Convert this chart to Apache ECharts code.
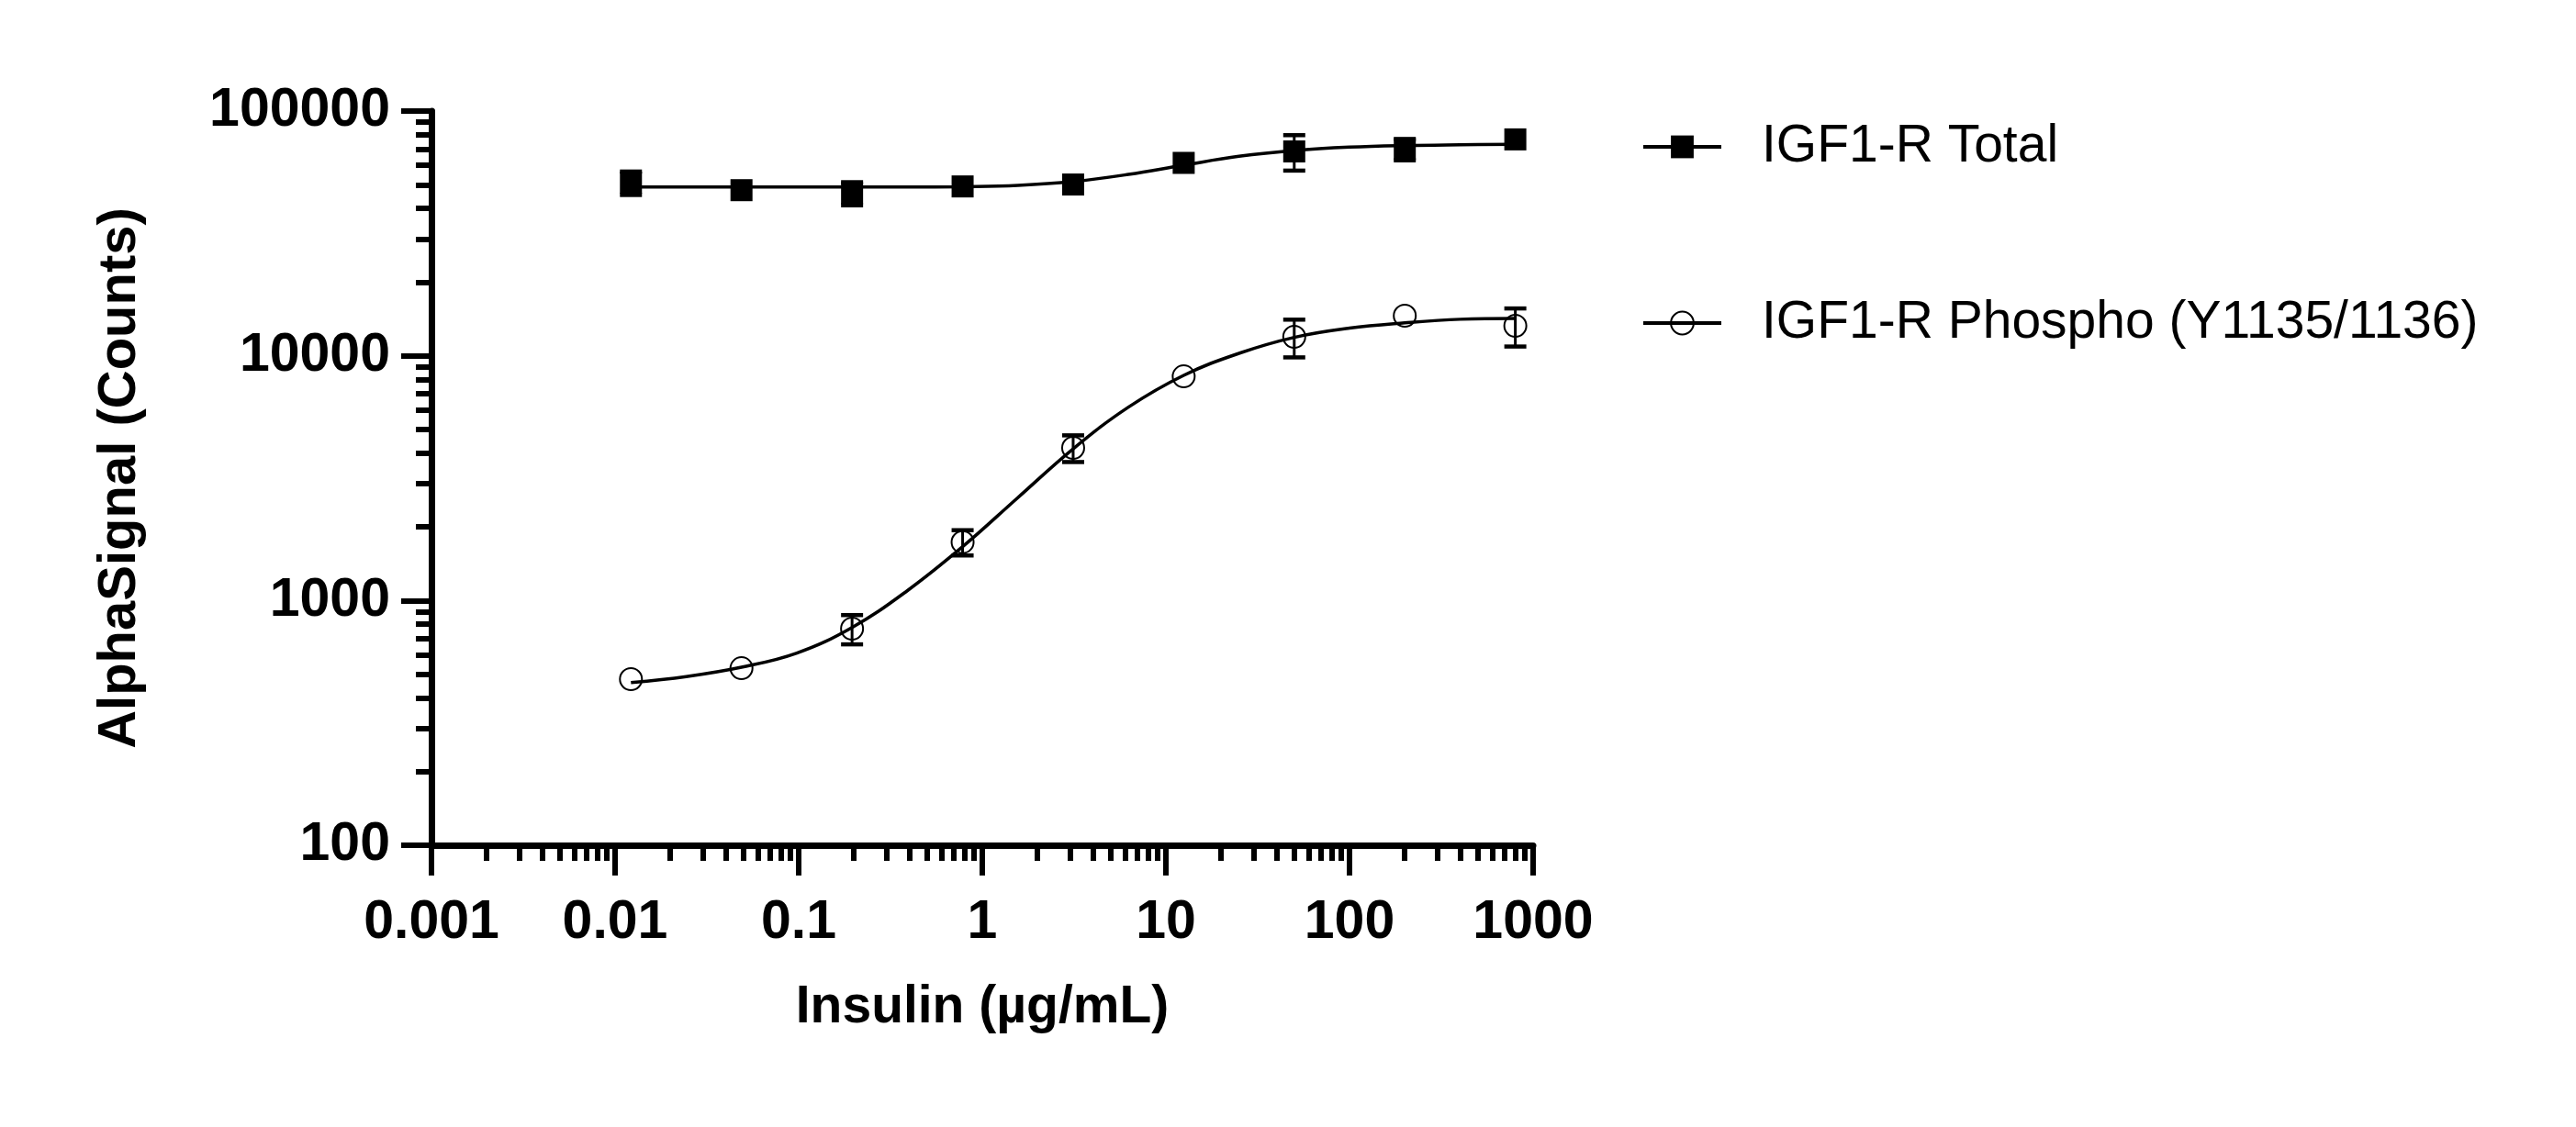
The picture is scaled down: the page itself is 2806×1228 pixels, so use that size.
<!DOCTYPE html>
<html><head><meta charset="utf-8">
<script src="https://cdn.jsdelivr.net/npm/echarts@6/dist/echarts.min.js"></script>
<style>html,body{margin:0;padding:0;background:#fff}#c{width:2806px;height:1228px}</style>
</head><body><div id="c"></div>
<script>
// ---- data ----
const concentrations = [0.0122, 0.0488, 0.1953, 0.78125, 3.125, 12.5, 50, 200, 800];
const totalMean   = [51000, 47500, 46200, 49200, 50100, 61400, 68400, 69900, 76600];
const totalSD     = [5600, 0, 5000, 0, 0, 0, 11300, 7000, 0];
const phosphoMean = [477, 529, 767, 1733, 4205, 8240, 11950, 14580, 13260];
const phosphoSD   = [0, 0, 105, 205, 525, 0, 2100, 0, 2350];
// fitted curves at 2-fold steps
const fitX       = [0.0122, 0.0244, 0.0488, 0.0977, 0.1953, 0.39, 0.78125, 1.5625, 3.125, 6.25, 12.5, 25, 50, 100, 200, 400, 800];
const fitTotal   = [48900, 48900, 48900, 48900, 48900, 48900, 49100, 49700, 51500, 55100, 60100, 65300, 69000, 71200, 72300, 72800, 73100];
const fitPhospho = [462, 489, 534, 610, 776, 1096, 1659, 2633, 4165, 6166, 8318, 10233, 11890, 12970, 13630, 14100, 14210];
const xTickLabels = ['0.001', '0.01', '0.1', '1', '10', '100', '1000'];
const yTickLabels = ['100', '1000', '10000', '100000'];
const seriesNames = ['IGF1-R Total', 'IGF1-R Phospho (Y1135/1136)'];
const xTitle = 'Insulin (µg/mL)';
const yTitle = 'AlphaSignal (Counts)';

// ---- derived ----
const xMajor = xTickLabels.map(Number);
const yMajor = yTickLabels.map(Number);
function minors(major) {
  const out = [];
  for (let i = 0; i < major.length - 1; i++) for (let k = 2; k <= 9; k++) out.push(+(major[i] * k).toPrecision(6));
  return out;
}
const xMinor = minors(xMajor), yMinor = minors(yMajor);
function labelFor(list) {
  return v => { const e = Math.round(Math.log10(v)); const i = list.findIndex(s => Math.round(Math.log10(Number(s))) === e); return i >= 0 ? list[i] : ''; };
}
const pts = (xs, ys) => xs.map((x, i) => [x, ys[i]]);
const errs = (xs, m, sd) => xs.map((x, i) => [x, m[i] - sd[i], m[i] + sd[i], sd[i]]).filter(d => d[3] > 0);

const FONT = 'Liberation Sans, Arial, sans-serif';
const black = '#000';

function errRender(params, api) {
  const x = api.value(0), lo = api.value(1), hi = api.value(2);
  const a = api.coord([x, hi]), b = api.coord([x, lo]);
  const cw = 12;
  return { type: 'group', children: [
    { type: 'line', shape: { x1: a[0], y1: a[1], x2: b[0], y2: b[1] }, style: { stroke: black, lineWidth: 3 } },
    { type: 'line', shape: { x1: a[0] - cw, y1: a[1], x2: a[0] + cw, y2: a[1] }, style: { stroke: black, lineWidth: 4.5 } },
    { type: 'line', shape: { x1: b[0] - cw, y1: b[1], x2: b[0] + cw, y2: b[1] }, style: { stroke: black, lineWidth: 4.5 } }
  ]};
}

const axisLabelStyle = { fontFamily: FONT, fontWeight: 'bold', fontSize: 59, color: black };

const option = {
  backgroundColor: '#fff',
  animation: false,
  grid: { left: 470, right: 1136, top: 121, bottom: 307, containLabel: false },
  legend: {
    orient: 'vertical', left: 1783, top: 125, itemWidth: 85, itemHeight: 31, itemGap: 132,
    data: seriesNames,
    lineStyle: { width: 4, color: black },
    textStyle: { fontFamily: FONT, fontSize: 57, color: black, lineHeight: 60, padding: [0, 0, 0, 39] }
  },
  xAxis: [
    {
      type: 'log', logBase: 10, min: xMajor[0], max: xMajor[xMajor.length - 1], position: 'bottom',
      axisLine: { show: true, onZero: false, lineStyle: { color: black, width: 7 } },
      axisTick: { show: true, inside: false, length: 33, customValues: xMajor, lineStyle: { color: black, width: 6 } },
      axisLabel: { show: true, customValues: xMajor, formatter: labelFor(xTickLabels), margin: 55, ...axisLabelStyle },
      splitLine: { show: false }, minorTick: { show: false },
      name: xTitle, nameLocation: 'middle', nameGap: 149,
      nameTextStyle: { fontFamily: FONT, fontWeight: 'bold', fontSize: 57, color: black }
    },
    {
      type: 'log', logBase: 10, min: xMajor[0], max: xMajor[xMajor.length - 1], position: 'bottom',
      axisLine: { show: false, onZero: false },
      axisTick: { show: true, inside: false, length: 17, customValues: xMinor, lineStyle: { color: black, width: 6 } },
      axisLabel: { show: false }, splitLine: { show: false }
    }
  ],
  yAxis: [
    {
      type: 'log', logBase: 10, min: yMajor[0], max: yMajor[yMajor.length - 1], position: 'left',
      axisLine: { show: true, onZero: false, lineStyle: { color: black, width: 7 } },
      axisTick: { show: true, inside: false, length: 33, customValues: yMajor, lineStyle: { color: black, width: 6 } },
      axisLabel: { show: true, customValues: yMajor, formatter: labelFor(yTickLabels), margin: 45, ...axisLabelStyle },
      splitLine: { show: false },
      name: yTitle, nameLocation: 'middle', nameGap: 310,
      nameTextStyle: { fontFamily: FONT, fontWeight: 'bold', fontSize: 58, color: black }
    },
    {
      type: 'log', logBase: 10, min: yMajor[0], max: yMajor[yMajor.length - 1], position: 'left',
      axisLine: { show: false, onZero: false },
      axisTick: { show: true, inside: false, length: 17, customValues: yMinor, lineStyle: { color: black, width: 6 } },
      axisLabel: { show: false }, splitLine: { show: false }
    }
  ],
  series: [
    {
      name: seriesNames[0], type: 'line', data: pts(fitX, fitTotal), smooth: 0.4, showSymbol: false,
      symbol: 'rect', itemStyle: { color: black }, lineStyle: { color: black, width: 3.5 }, z: 2, silent: true
    },
    {
      name: seriesNames[1], type: 'line', data: pts(fitX, fitPhospho), smooth: 0.4, showSymbol: false,
      symbol: 'circle', itemStyle: { color: 'rgba(0,0,0,0)', borderColor: black, borderWidth: 2 },
      lineStyle: { color: black, width: 3.5 }, z: 2, silent: true
    },
    {
      name: 'totalErr', type: 'custom', renderItem: errRender, data: errs(concentrations, totalMean, totalSD),
      encode: { x: 0, y: [1, 2] }, z: 3, silent: true
    },
    {
      name: 'phosphoErr', type: 'custom', renderItem: errRender, data: errs(concentrations, phosphoMean, phosphoSD),
      encode: { x: 0, y: [1, 2] }, z: 3, silent: true
    },
    {
      name: 'totalPts', type: 'scatter', data: pts(concentrations, totalMean), symbol: 'rect', symbolSize: 24,
      itemStyle: { color: black, opacity: 1 }, z: 4, silent: true
    },
    {
      name: 'phosphoPts', type: 'scatter', data: pts(concentrations, phosphoMean), symbol: 'circle', symbolSize: 24,
      itemStyle: { color: 'rgba(0,0,0,0)', borderColor: black, borderWidth: 2, opacity: 1 }, z: 4, silent: true
    }
  ]
};
const chart = echarts.init(document.getElementById('c'), null, { renderer: 'canvas' });
chart.setOption(option);
</script>
</body></html>
